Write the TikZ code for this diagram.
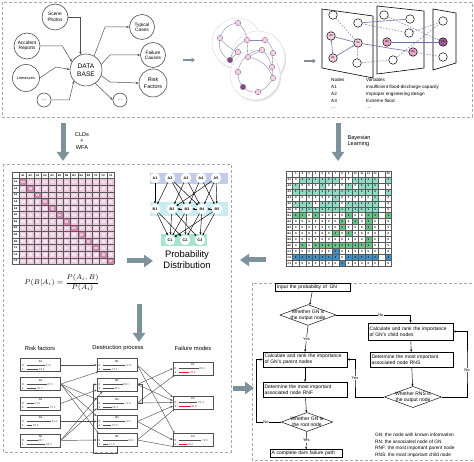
\documentclass[tikz,border=0pt]{standalone}
\usepackage{amsmath}
\usepackage{fontspec}
\setmainfont{Liberation Sans}
\usepackage{tikz}
\usetikzlibrary{shapes.geometric}
\usetikzlibrary{arrows.meta,positioning}

\definecolor{arrowgrey}{HTML}{7D929B}
\definecolor{dashgrey}{HTML}{A8A8A8}
\definecolor{linegrey}{HTML}{505050}
\definecolor{netblue}{HTML}{6A6EA6}
\definecolor{nodepink}{HTML}{EDD3E6}
\definecolor{nodepurple}{HTML}{7E4C7F}
\definecolor{apink}{HTML}{F4CDE0}
\definecolor{bpink}{HTML}{E7A2C6}
\definecolor{cpurple}{HTML}{9A5B95}
\definecolor{cellpink}{HTML}{EDC9DD}
\definecolor{diagpink}{HTML}{CF86AF}
\definecolor{cellteal}{HTML}{8FDCC4}
\definecolor{cellgreen}{HTML}{66C287}
\definecolor{cellblue}{HTML}{3D8FC6}
\definecolor{bandA}{HTML}{C3CBEB}
\definecolor{bandB}{HTML}{C9EDEE}
\definecolor{bandC}{HTML}{A5E4CF}
\definecolor{failred}{HTML}{E02020}

\tikzset{
  frame/.style={draw=dashgrey, dash pattern=on 3pt off 2pt, line width=0.6pt},
  bigarrow/.style={draw=arrowgrey, line width=5pt, -{Triangle[width=12pt,length=9pt]}},
  smallarrow/.style={draw=arrowgrey, line width=1.6pt, -{Triangle[width=4.5pt,length=3.5pt]}},
  dbnode/.style={circle, draw=linegrey, line width=0.6pt, fill=white, align=center,
    inner sep=0.5pt, font=\fontsize{4.8}{5.4}\selectfont},
  dbarrow/.style={draw=linegrey, line width=0.5pt, -{Stealth[length=3pt,width=2.4pt]}},
  knode/.style={circle, draw=nodepurple!80, fill=nodepink, minimum size=5.5pt, inner sep=0pt},
  kedge/.style={draw=netblue!80, line width=0.4pt},
  plane/.style={fill=white, draw=black, line width=0.6pt},
  pnode/.style={circle, draw=black, fill=white, line width=0.5pt, minimum size=8.5pt,
    inner sep=0pt, font=\fontsize{2.8}{3}\selectfont},
  pedge/.style={draw=netblue, line width=0.6pt},
  pdash/.style={draw=netblue, line width=0.5pt, dash pattern=on 1.5pt off 1.5pt},
  tabtext/.style={anchor=west, inner sep=0pt, font=\fontsize{4.6}{5}\selectfont},
  biglabel/.style={align=center, font=\fontsize{5.6}{6.2}\selectfont},
  mhead/.style={inner sep=0pt, font=\fontsize{2.6}{3}\bfseries\selectfont},
  mdigit/.style={inner sep=0pt, font=\fontsize{2.8}{3}\bfseries\selectfont},
  gnode/.style={circle, draw=white, fill=white, minimum size=10pt, inner sep=0pt,
    font=\fontsize{3.6}{4}\bfseries\selectfont},
  gedge/.style={draw=black, line width=0.45pt, -{Latex[length=2.4pt,width=2pt]}},
  bnframe/.style={draw=linegrey, line width=0.5pt, fill=white, minimum width=40pt,
    minimum height=13pt, inner sep=0pt},
  bntext/.style={inner sep=0.3pt, font=\fontsize{2.8}{3}\selectfont},
  bnedge/.style={draw=linegrey, line width=0.45pt, -{Stealth[length=2.5pt,width=2pt]}},
  heading/.style={font=\fontsize{5.8}{6}\selectfont},
  fbox/.style={draw=black, line width=0.45pt, fill=white, align=left, inner sep=1.5pt,
    font=\fontsize{5}{6}\selectfont},
  fdec/.style={diamond, draw=black, line width=0.45pt, fill=white, aspect=2.7, inner sep=-1pt,
    align=center, font=\fontsize{5}{6}\selectfont},
  fline/.style={draw=black, line width=0.45pt, -{Stealth[length=2.5pt,width=2pt]}},
  flabel/.style={fill=white, inner sep=0.6pt, font=\fontsize{4}{4.5}\selectfont},
  legend/.style={anchor=west, inner sep=0pt, font=\fontsize{4.8}{5}\selectfont},
}

% one node of the Bayesian network: name, x, y, title, state 0, state 1, colour of state 1
\newcommand\bnbox[7]{%
  \node[bnframe] (#1) at (#2,#3) {};
  \node[bntext] (#1t) at (#2,#3-3.8) {#4};
  \node[bntext] (#1z) at (#2-17.5,#3+0.3) {0};
  \node[bntext] (#1o) at (#2-17.5,#3+4.3) {1};
  \draw[linegrey, line width=1.1pt] (#2-14,#3+0.3) -- ++(#5*0.3,0) node[bntext, right] {#5};
  \draw[#7, line width=1.1pt] (#2-14,#3+4.3) -- ++(#6*0.3,0) node[bntext, right] {#6};
}

\begin{document}
\begin{tikzpicture}[x=1pt, y=-1pt]
  \useasboundingbox (0,0) rectangle (474,462);

  % panels
  \draw[frame] (2,2) rectangle (472,117);
  \draw[frame] (3,164) rectangle (231,452);
  \draw[frame] (252,283) rectangle (480,460);

  % data base
  \node[dbnode, minimum size=32pt, font=\fontsize{6.6}{7.6}\selectfont] (db) at (86,70) {DATA\\BASE};
  \node[dbnode, minimum size=26pt] (photos) at (55,17) {Scene\\Photos};
  \node[dbnode, minimum size=26pt] (reports) at (27,46) {Accident\\Reports};
  \node[dbnode, minimum size=27pt, font=\fontsize{3.8}{4}\selectfont] (lit) at (26,78) {Literatures};
  \node[dbnode, minimum size=14pt] (dotsin) at (44,100) {\ldots};
  \node[dbnode, minimum size=25pt] (cases) at (142,27) {Typical\\Cases};
  \node[dbnode, minimum size=25pt] (causes) at (153,55) {Failure\\Causes};
  \node[dbnode, minimum size=28pt, font=\fontsize{5.4}{6.2}\selectfont] (risk) at (153,83) {Risk\\Factors};
  \node[dbnode, minimum size=14pt] (dotsout) at (120,100) {\ldots};

  \draw[dbarrow] (photos.east) -| (db.110);
  \draw[dbarrow] (reports.east) -- ++(22,0) -- (db.150);
  \draw[dbarrow] (lit.east) -- (56,67) -- (db.178);
  \draw[dbarrow] (dotsin.east) -- ++(18,0) -- (db.222);
  \draw[dbarrow] (db.60) -- (105,27) -- (cases.west);
  \draw[dbarrow] (db.20) -- (110,55) -- (causes.west);
  \draw[dbarrow] (db.340) -- (110,82) -- (risk.west);
  \draw[dbarrow] (db.305) -- (dotsout.west);

  \draw[smallarrow] (183,60) -- (195,60);
  \draw[smallarrow] (304,61) -- (316,61);

  % overlapping circles
  \foreach \cx/\cy/\r in {237/43/25, 258/58/27, 255/75/25} {
    \fill[gray!22] (\cx+1.2,\cy+1.6) circle [radius=\r pt];
    \filldraw[fill=white, draw=gray!35, line width=0.3pt] (\cx,\cy) circle [radius=\r pt];
  }
  \foreach \n/\px/\py in {k1/238/23, k2/220/38, k3/247/40, k4/265/40, k5/238/52, k6/230/60,
      k7/248/57, k8/262/50, k9/273/53, k10/272/67, k11/238/72, k12/273/78, k13/243/87, k14/258/92}
    \coordinate (\n) at (\px,\py);
  \draw[kedge] (k2) to[bend left=35] (k1);
  \draw[kedge] (k1) to[bend left=20] (k3);
  \draw[kedge] (k2) to[bend right=15] (k5);
  \draw[kedge] (k3) -- (k4);
  \draw[kedge] (k4) to[bend left=25] (k9);
  \draw[kedge] (k3) -- (k7);
  \draw[kedge] (k7) -- (k8);
  \draw[kedge] (k8) to[bend left=15] (k10);
  \draw[kedge] (k9) -- (k10);
  \draw[kedge] (k6) to[bend left=25] (k3);
  \draw[kedge] (k5) -- (k6);
  \draw[kedge] (k7) to[bend left=30] (k12);
  \draw[kedge] (k11) to[bend right=20] (k13);
  \draw[kedge] (k13) to[bend right=25] (k14);
  \draw[kedge] (k14) to[bend right=20] (k12);
  \draw[kedge] (k11) to[bend left=40] (k8);
  \draw[kedge] (k10) -- (k12);
  \draw[kedge] (k2) to[bend right=40] (k6);
  \foreach \n in {k1,k2,k3,k4,k5,k7,k8,k9,k10,k11,k12,k14}
    \node[knode] (\n n) at (\n) {};
  \foreach \n in {k6,k13}
    \node[knode, fill=nodepurple] (\n n) at (\n) {};

  % layered network
  \filldraw[plane] (322,9) -- (373,16) -- (373,78) -- (322,68) -- cycle;
  \filldraw[plane] (377,6) -- (424,11) -- (424,68) -- (377,74) -- cycle;
  \filldraw[plane] (433,9) -- (456,13) -- (456,63) -- (433,70) -- cycle;
  \node[pnode] (p1a) at (333,15) {};
  \node[pnode] (p1b) at (358,23) {};
  \node[pnode, fill=apink] (pa3) at (331,36) {A3};
  \node[pnode, fill=apink] (pa4) at (358,43) {A4};
  \node[pnode, fill=apink] (pa1) at (333,58) {A1};
  \node[pnode] (p1c) at (357,63) {};
  \node[pnode] (p2a) at (384,15) {};
  \node[pnode] (p2b) at (410,19) {};
  \node[pnode] (p2c) at (409,33) {};
  \node[pnode, fill=bpink] (pb2) at (387,42) {B2};
  \node[pnode, fill=bpink] (pb4) at (413,52) {B4};
  \node[pnode] (p2d) at (393,60) {};
  \node[pnode] (p3a) at (443,21) {};
  \node[pnode, fill=cpurple] (pc2) at (443,42) {C2};
  \node[pnode] (p3b) at (443,57) {};
  \draw[pedge, -{Stealth[length=2pt]}] (pa3) -- (pa4);
  \draw[pedge, -{Stealth[length=2pt]}] (pa1) -- (pa3);
  \draw[pedge, -{Stealth[length=2pt]}] (pa1) -- (pa4);
  \draw[pedge] (pa4) -- (pb4);
  \draw[pedge] (p1b) -- (p2b);
  \draw[pedge] (pb2) -- (pc2);
  \draw[pdash] (p1a) -- (pa4);
  \draw[pdash] (p1c) -- (pa4);
  \draw[pdash] (p1c) -- (p2d);
  \draw[pdash] (p2d) -- (p3a);
  \draw[pdash] (p2a) -- (pc2);
  \draw[pdash] (p2c) -- (p3a);
  \draw[pdash] (p1b) -- (p2c);
  \draw[pdash] (pb4) -- (p3b);

  \node[tabtext] (hnodes) at (331,80) {Nodes};
  \node[tabtext] (hvars) at (366,80) {Variables};
  \foreach \nd/\var [count=\i] in {A1/Insufficient flood-discharge capacity,
      A2/Improper engineering design, A3/Extreme flood, \ldots/\ldots} {
    \node[tabtext] (tn\i) at (331,80+7*\i) {\nd};
    \node[tabtext] (tv\i) at (366,80+7*\i) {\var};
  }

  % transitions
  \draw[bigarrow] (63,123) -- (63,161);
  \node[biglabel] (cld) at (82,141) {CLDs\\+\\WFA};
  \draw[bigarrow] (338,123) -- (338,161);
  \node[biglabel, align=left, anchor=west] (bayl) at (344,141) {Bayesian\\Learning};

  % correlation matrix
  \def\mlist{A1,A2,A3,A4,A5,B1,B2,B3,B4,B5,C1,C2,C3}
  \foreach \lab [count=\i] in \mlist {
    \foreach \j in {1,...,13} {
      \ifnum\i=\j \def\cellcol{diagpink}\else\def\cellcol{cellpink}\fi
      \fill[\cellcol] (12+7.3*\j,172+6.6*\i) rectangle ++(7.3,6.6);
      \fill[white, opacity=0.55] (14+7.3*\j,174+6.6*\i) rectangle ++(3.3,2.6);
    }
    \node[mhead] (mc\i) at (15.65+7.3*\i,175.3) {\lab};
    \node[mhead] (mr\i) at (15.65,175.3+6.6*\i) {\lab};
  }
  \foreach \k in {0,...,14} {
    \draw[gray!70!black, line width=0.35pt] (12+7.3*\k,172) -- (12+7.3*\k,264.4);
    \draw[gray!70!black, line width=0.35pt] (12,172+6.6*\k) -- (114.2,172+6.6*\k);
  }

  % causal graph
  \fill[bandA] (150,173) rectangle (228,184);
  \fill[bandB] (150,202) rectangle (228,216);
  \fill[bandC] (161,234) rectangle (207,246);
  \foreach \k/\gx in {1/155,2/170,3/186,4/201,5/216}
    \node[gnode] (ga\k) at (\gx,178) {A\k};
  \foreach \k/\gx in {1/155,2/172,3/187,4/202,5/217}
    \node[gnode] (gb\k) at (\gx,209) {B\k};
  \foreach \k/\gx in {1/170,2/185,3/200}
    \node[gnode] (gc\k) at (\gx,240) {C\k};
  \foreach \s/\t in {a1/b1, a2/b1, a2/b3, a2/b4, a3/b2, a3/b4, a4/b3, a4/b5, a5/b2, a5/b4, a5/b5}
    \draw[gedge] (g\s) -- (g\t);
  \foreach \s/\t in {b3/b2, b4/b3, b5/b4}
    \draw[gedge] (g\s) -- (g\t);
  \foreach \s/\t in {b1/c1, b1/c2, b2/c1, b2/c3, b3/c1, b3/c2, b4/c2, b4/c3, b5/c1, b5/c3}
    \draw[gedge] (g\s) -- (g\t);

  \draw[bigarrow] (127,261) -- (153,261);
  \node[align=center, font=\fontsize{9.4}{11}\selectfont] (prob) at (187,260) {Probability\\Distribution};
  \node[font=\fontsize{7}{8}\selectfont] (bayes) at (62,283)
    {$P(B|A_i)=\dfrac{P(A_i,B)}{P(A_i)}$};

  % sample matrix
  \foreach \k in {1,...,13}
    \node[mhead] (sh\k) at (289.3+6.6*\k,174) {\k};
  \node[mhead] (sh50) at (289.3+6.6*15,174) {50};
  \foreach \lab/\colr/\vals [count=\i] in {
      A1/cellteal/{0,1,1,1,1,1,1,0,0,1,1,1,1,1},
      A2/cellteal/{1,0,0,0,1,0,0,0,1,0,1,1,1,0},
      A3/cellteal/{1,1,1,1,1,1,1,1,1,1,1,1,1,1},
      A4/cellteal/{0,0,0,0,0,0,1,0,0,0,0,0,1,0},
      A5/cellteal/{1,1,1,0,1,1,1,0,1,1,1,1,1,0},
      A6/cellteal/{0,1,1,1,1,1,1,1,1,1,1,1,1,0},
      B1/cellgreen/{1,1,0,1,0,0,0,0,1,0,0,1,1,1},
      B2/cellgreen/{0,0,0,0,0,0,0,1,0,1,0,1,0,0},
      B3/cellgreen/{0,0,0,0,0,0,0,1,0,0,0,1,0,0},
      B4/cellgreen/{0,0,0,0,0,0,1,0,1,0,0,0,0,0},
      B5/cellgreen/{0,0,0,0,0,0,0,0,0,0,0,1,0,0},
      B6/cellgreen/{0,1,0,1,1,1,1,1,1,1,1,1,0,0},
      C1/cellblue/{0,0,0,0,0,0,1,0,0,0,0,0,0,0},
      C2/cellblue/{1,1,1,1,1,1,1,0,1,1,1,1,1,1},
      C3/cellblue/{0,0,0,0,0,0,0,1,0,0,0,0,0,0}} {
    \node[mhead] (sr\i) at (289.3,174+5.95*\i) {\lab};
    \foreach \v [count=\j] in \vals {
      \pgfmathtruncatemacro\col{\j<14 ? \j : 15}
      \ifnum\v=1 \def\cellcol{\colr}\else\def\cellcol{white}\fi
      \fill[\cellcol] (286+6.6*\col,171+5.95*\i) rectangle ++(6.6,5.95);
      \node[mdigit] at (289.3+6.6*\col,174+5.95*\i) {\v};
    }
  }
  \foreach \k in {0,...,16}
    \draw[gray!70!black, line width=0.35pt] (286+6.6*\k,171) -- (286+6.6*\k,266.2);
  \foreach \k in {0,...,16}
    \draw[gray!70!black, line width=0.35pt] (286,171+5.95*\k) -- (391.6,171+5.95*\k);

  \draw[bigarrow] (266,260) -- (240,260);

  % Bayesian network
  \draw[bigarrow] (139,304) -- (139,342);
  \node[heading] (hrisk) at (40,348) {Risk factors};
  \node[heading] (hproc) at (118,348) {Destruction process};
  \node[heading] (hfail) at (193,348) {Failure modes};
  \bnbox{a1}{40.5}{365}{A1}{61.2}{38.8}{linegrey}
  \bnbox{a2}{40.5}{384}{A2}{67.3}{32.7}{linegrey}
  \bnbox{a3}{40.5}{403.5}{A3}{24.5}{75.5}{linegrey}
  \bnbox{a4}{40.5}{421.5}{A4}{81.4}{18.6}{linegrey}
  \bnbox{a5}{40.5}{440.5}{A5}{36.7}{63.3}{linegrey}
  \bnbox{b1}{117}{365}{B1}{72.8}{27.2}{linegrey}
  \bnbox{b2}{117}{384.5}{B2}{65.0}{35.0}{linegrey}
  \bnbox{b3}{117}{403}{B3}{71.6}{28.4}{linegrey}
  \bnbox{b4}{117}{421.5}{B4}{72.2}{27.8}{linegrey}
  \bnbox{b5}{117}{440}{B5}{82.2}{17.8}{linegrey}
  \bnbox{c1}{193}{368.5}{C1}{66.1}{33.9}{failred}
  \bnbox{c2}{193}{402.5}{C2}{61.4}{38.6}{failred}
  \bnbox{c3}{193}{440}{C3}{74.6}{25.4}{failred}
  \draw[bnedge] (a1.east) -- (b1.west);
  \draw[bnedge] (a2.east) -- (b1.200);
  \draw[bnedge] (a2.east) -- (b3.170);
  \draw[bnedge] (a2.east) -- (b4.165);
  \draw[bnedge] (a2.east) -- (b5.160);
  \draw[bnedge] (a3.east) -- (b2.195);
  \draw[bnedge] (a4.east) -- (b4.west);
  \draw[bnedge] (a5.east) -- (b2.205);
  \draw[bnedge] (a5.east) -- (b3.195);
  \draw[bnedge] (a5.east) -- (b5.west);
  \draw[bnedge] (b1.east) -- (c2.165);
  \draw[bnedge] (b1.east) -- (c3.160);
  \draw[bnedge] (b2.east) -- (c1.west);
  \draw[bnedge] (b3.east) -- (c1.200);
  \draw[bnedge] (b2.east) -- (c2.175);
  \draw[bnedge] (b3.east) -- (c2.west);
  \draw[bnedge] (b4.east) -- (c2.190);
  \draw[bnedge] (b4.east) -- (c3.west);
  \draw[bnedge] (b5.east) -- (c2.200);
  \draw[bnedge] (b5.east) -- (c3.200);
  \draw[bnedge] (b3.east) -- ++(5,0) |- (b2.east);
  \draw[bnedge] (b5.south) |- (93,453) |- (b2.west);

  \draw[bigarrow] (233,388) -- (254,388);

  % path search
  \node[fbox, text width=72pt] (fin) at (313,287) {Input the probability of\, GN};
  \node[fdec] (gnout) at (308,315) {Whether GN is\\the output node};
  \node[fbox, text width=81pt, minimum height=15pt] (parent) at (305,359.5)
    {Calculate and rank the importance\\of GN's parent nodes};
  \node[fbox, text width=81pt, minimum height=15pt] (rnf) at (305,389.5)
    {Determine the most important\\associated node RNF};
  \node[fdec] (gnroot) at (307,422) {Whether GN is\\the root node};
  \node[fbox, text width=69pt] (fend) at (306,453.5) {A complete dam failure path};
  \node[fbox, text width=82pt, minimum height=17pt] (child) at (410.5,331.5)
    {Calculate and rank the importance\\of GN's child nodes};
  \node[fbox, text width=80pt, minimum height=15pt] (rns) at (411.5,359.5)
    {Determine the most important\\associated node RNS};
  \node[fdec] (rnsout) at (413,397) {Whether RNS is\\the output node};

  \draw[fline] (fin) -- (gnout);
  \draw[fline] (gnout.east) -| node[flabel, pos=0.3] {No} (child.north);
  \draw[fline] (gnout.south) -- node[flabel] {Yes} (parent.north);
  \draw[fline] (parent) -- (rnf);
  \draw[fline] (rnf) -- (gnroot);
  \draw[fline] (gnroot) -- node[flabel] {Yes} (fend);
  \draw[fline] (gnroot.west) -- node[flabel, pos=0.6] {No} (256,422) |- (parent.west);
  \draw[fline] (child) -- (rns);
  \draw[fline] (rns) -- (rnsout);
  \draw[fline] (rnsout.east) -| (467,370) node[flabel] {No} |- (child.east);
  \draw[fline] (rnsout.west) -| (355,378) node[flabel] {Yes} |- (parent.east);

  \node[legend] (lgn) at (375,435) {GN: the node with known information};
  \node[legend] (lrn) at (375,442) {RN: the associated node of GN};
  \node[legend] (lrnf) at (375,448.5) {RNF: the most important parent node};
  \node[legend] (lrns) at (375,455) {RNS: the most important child node};
\end{tikzpicture}
\end{document}
